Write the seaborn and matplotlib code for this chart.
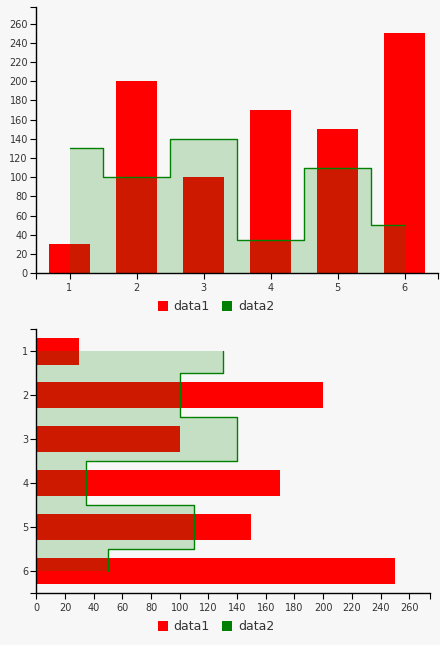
import numpy as np
import pandas as pd
import matplotlib
matplotlib.use("Agg")
import matplotlib.pyplot as plt
from matplotlib.patches import Patch
from matplotlib import cbook
import seaborn as sns

categories = [1, 2, 3, 4, 5, 6]
data1 = [30, 200, 100, 170, 150, 250]
data2 = [130, 100, 140, 35, 110, 50]
value_ticks = list(range(0, 261, 20))
series_names = ["data1", "data2"]

RED = "#ff0000"
GREEN = "#008000"
BG = "#f7f7f7"
TXT = "#333333"

sns.set_style("white")
plt.rcParams["font.family"] = ["DejaVu Sans"]

df = pd.DataFrame({"cat": categories, "data1": data1, "data2": data2})

fig = plt.figure(figsize=(4.4, 6.45), dpi=100, facecolor=BG)
ax1 = fig.add_axes([36 / 440, 1 - 273.3 / 645, 402 / 440, 266 / 645])
ax2 = fig.add_axes([36.3 / 440, 1 - 593.3 / 645, 393.7 / 440, 264 / 645])


def style(ax):
    ax.set_facecolor(BG)
    for s in ["top", "right"]:
        ax.spines[s].set_visible(False)
    for s in ["left", "bottom"]:
        ax.spines[s].set_color("black")
        ax.spines[s].set_linewidth(1.0)
    ax.tick_params(axis="both", which="both", length=4.3, width=0.8,
                   color="black", labelsize=7, labelcolor=TXT, direction="out",
                   bottom=True, left=True, top=False, right=False)
    ax.tick_params(axis="y", which="minor", labelleft=False)
    ax.tick_params(axis="x", which="minor", labelbottom=False)
    ax.tick_params(axis="y", pad=1.5)
    ax.tick_params(axis="x", pad=2.5)
    ax.set_xlabel("")
    ax.set_ylabel("")


# ---------- Top: vertical ----------
sns.barplot(data=df, x="cat", y="data1", native_scale=True, width=0.6,
            color=RED, saturation=1, ax=ax1, zorder=1)
for p in ax1.patches:
    p.set_edgecolor("none")
ax1.fill_between(df["cat"], df["data2"], 0, step="mid", color=GREEN,
                 alpha=0.2, linewidth=0, zorder=2)
ax1.step(df["cat"], df["data2"], where="mid", color=GREEN, linewidth=1.0,
         zorder=3)
ax1.set_xlim(0.5, 6.5)
ax1.set_ylim(0, 277)
ax1.set_xticks(categories)
ax1.set_xticklabels([str(c) for c in categories])
ax1.set_yticks(value_ticks)
ax1.set_xticks([0.5, 6.5], minor=True)
ax1.set_yticks([277], minor=True)
style(ax1)

# ---------- Bottom: horizontal ----------
sns.barplot(data=df, x="data1", y="cat", orient="h", native_scale=True,
            width=0.6, color=RED, saturation=1, ax=ax2, zorder=1)
for p in ax2.patches:
    p.set_edgecolor("none")
ax2.fill_betweenx(df["cat"], df["data2"], 0, step="mid", color=GREEN,
                  alpha=0.2, linewidth=0, zorder=2)
sy, sx = cbook.pts_to_midstep(np.asarray(categories, float),
                              np.asarray(data2, float))
ax2.plot(sx, sy, color=GREEN, linewidth=1.0, zorder=3)
ax2.set_ylim(6.5, 0.5)
ax2.set_xlim(0, 274.5)
ax2.set_yticks(categories)
ax2.set_yticklabels([str(c) for c in categories])
ax2.set_xticks(value_ticks)
ax2.set_yticks([0.5, 6.5], minor=True)
ax2.set_xticks([274.5], minor=True)
style(ax2)

# ---------- Legends ----------
handles = [Patch(facecolor=RED, edgecolor="none"),
           Patch(facecolor=GREEN, edgecolor="none")]
for yc in (1 - 306.7 / 645, 1 - 626.7 / 645):
    fig.legend(handles, series_names, loc="center", bbox_to_anchor=(0.491, yc),
               ncol=2, frameon=False, fontsize=9, handlelength=0.8,
               handleheight=0.8, handletextpad=0.45, columnspacing=1.0,
               labelcolor=TXT, borderaxespad=0, borderpad=0)

fig.savefig("out.png", dpi=100, facecolor=BG)
